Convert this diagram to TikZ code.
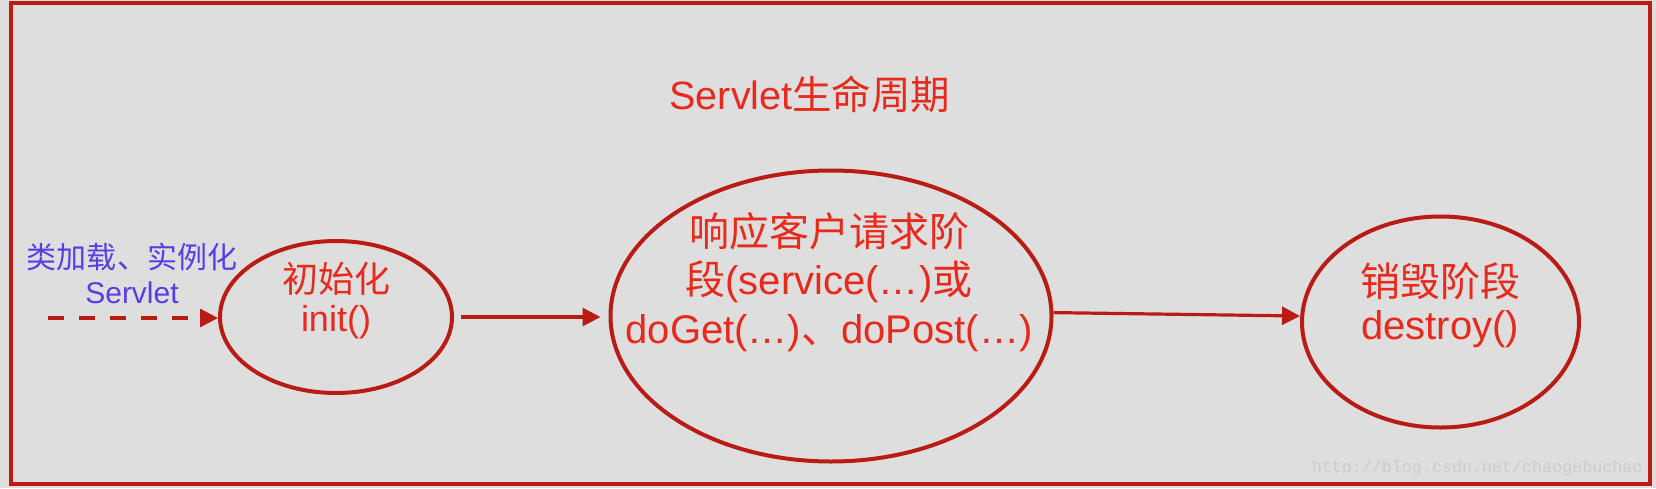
\documentclass[tikz,border=0pt]{standalone}
\usepackage{fontspec}
\setmainfont{Liberation Sans}
\newfontfamily\cjk{Noto Sans CJK SC}
\newfontfamily\wmfont{Liberation Mono}
\usetikzlibrary{arrows.meta,shapes.geometric}
\definecolor{bg}{HTML}{DEDEDE}
\definecolor{framered}{HTML}{B81C14}
\definecolor{txtred}{HTML}{E8291C}
\definecolor{txtblue}{HTML}{5A3CE6}
\tikzset{
  stage/.style={draw=framered, line width=4pt, ellipse, inner sep=0pt},
  lbl/.style={text=txtred, align=center},
  conn/.style={draw=framered, line width=3.2pt, -{Triangle[length=18pt,width=18pt]}},
}
\begin{document}
\begin{tikzpicture}[x=1pt,y=-1pt]
\fill[bg] (0,0) rectangle (1656,488);
\useasboundingbox (0,0) rectangle (1656,488);
\draw[framered, line width=4.5pt] (11,3) rectangle (1650,484);
\node[text=txtred, font=\fontsize{39.5}{46}\selectfont] (title) at (810,94) {Servlet{\cjk 生命周期}};
\node[stage, minimum width=232pt, minimum height=152pt] (init) at (336,317) {};
\node[stage, minimum width=441pt, minimum height=291pt] (svc) at (831,316) {};
\node[stage, minimum width=277pt, minimum height=211pt] (dst) at (1440.5,322) {};
\node[lbl, font=\fontsize{36}{39}\selectfont] (initl) at (336,301) {{\cjk 初始化}\\init()};
\node[lbl, font=\fontsize{40}{48.6}\selectfont] (svcl) at (829,282) {{\cjk 响应客户请求阶}\\{\cjk 段}(service(…){\cjk 或}\\doGet(…){\cjk 、}doPost(…)};
\node[lbl, font=\fontsize{40}{43}\selectfont] (dstl) at (1440,305) {{\cjk 销毁阶段}\\destroy()};
\node[text=txtblue, align=center, font=\fontsize{30}{35}\selectfont] (load) at (132,273) {{\cjk 类加载、实例化}\\Servlet};
\coordinate (start) at (47.5,318);
\draw[conn, dash pattern=on 16pt off 15pt] (start) -- ([yshift=-1pt]init.west);
\draw[conn] (init.east) ++(7,0) coordinate (a1) -- ([xshift=-8pt]svc.west |- a1);
\draw[conn] ([yshift=3.4pt]svc.east) -- ([yshift=6pt]dst.west);
\node[text=black!20, font=\wmfont\fontsize{16.7}{18}\selectfont, anchor=east] (wm) at (1646,468) {http://blog.csdn.net/chaogebuchao};
\end{tikzpicture}
\end{document}
